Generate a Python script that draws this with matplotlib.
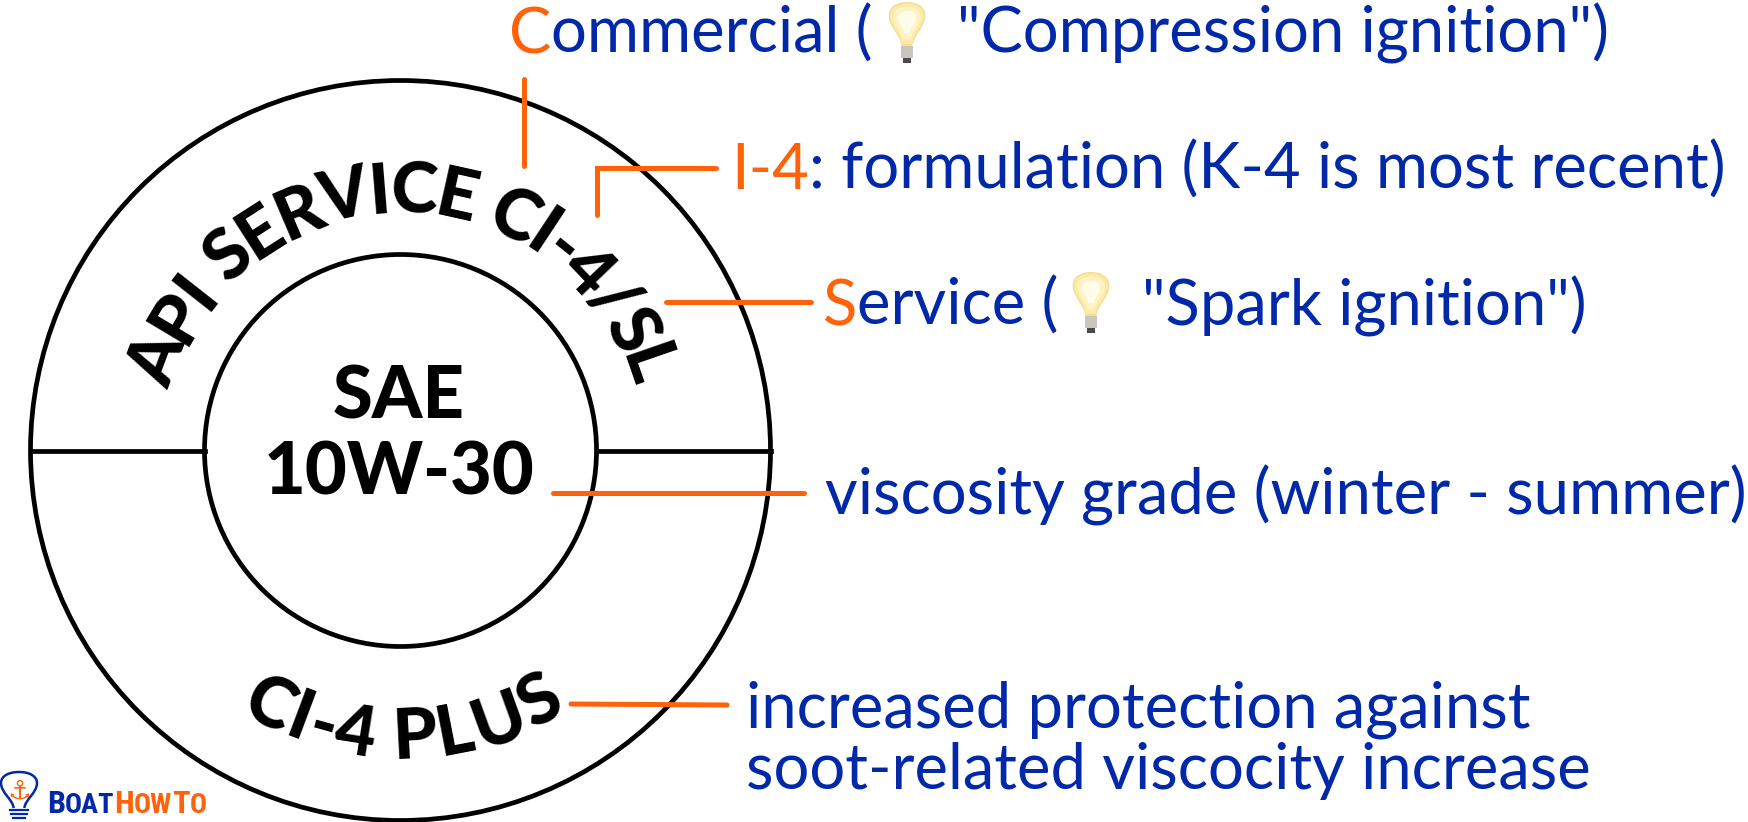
import numpy as np
import matplotlib
matplotlib.use('Agg')
import matplotlib.pyplot as plt
from matplotlib.patches import Circle, PathPatch
from matplotlib.path import Path
from matplotlib import font_manager as fm

BLUE = "#0028a8"
ORANGE = "#ff6208"
FONT = "Lato"

# ring geometry in image pixels
CENTER = (400.5, 450.5)
OUTER_R = 370
INNER_R = 196

top_arc_text = "API SERVICE CI-4/SL"
top_arc_span = (-75, 75)
top_arc_radius = 238
bottom_arc_text = "CI-4 PLUS"
bottom_arc_span = (-32, 33)
bottom_arc_radius = 308

# each label: list of (text, colour) pieces, x, baseline y
labels = [
    ([("C", ORANGE), ("ommercial (", BLUE)], 509, 53),
    ([('"Compression ignition")', BLUE)], 957, 53),
    ([("I-4", ORANGE), (": formulation (K-4 is most recent)", BLUE)], 731, 189),
    ([("S", ORANGE), ("ervice (", BLUE)], 823, 325),
    ([('"Spark ignition")', BLUE)], 1142, 325),
    ([("viscosity grade (winter - summer)", BLUE)], 825, 514),
    ([("increased protection against", BLUE)], 746, 727),
    ([("soot-related viscocity increase", BLUE)], 746, 789),
]

leaders = [
    ([524, 524], [79, 166]),
    ([596.5, 596.5, 716], [215, 168, 168]),
    ([666, 811], [302, 302]),
    ([553, 804], [493, 493]),
    ([571, 727], [704, 705]),
]

bulb_positions = [(907, 2), (1091, 272)]
bulb_height = 61

logo_pieces = [("B", BLUE, 34), ("OAT", BLUE, 30), ("H", ORANGE, 34), ("OW", ORANGE, 30), ("T", ORANGE, 34), ("O", ORANGE, 30)]
logo_span = (47, 207)
logo_fonts = ["Liberation Sans Narrow", "Roboto Condensed", "Open Sans Condensed", "Noto Sans Condensed", "Liberation Sans"]

BULB_VERTS = [(-0.09, 0.72), (-0.10, 0.55), (-0.30, 0.42), (-0.30, 0.22), (-0.30, 0.08), (-0.17, 0), (0, 0),
              (0.17, 0), (0.30, 0.08), (0.30, 0.22), (0.30, 0.42), (0.10, 0.55), (0.09, 0.72)]
BULB_CODES = [Path.MOVETO] + [Path.CURVE4] * 12


def bulb_path(x, y, h, sx=1.0, shrink=1.0):
    # shrink pulls the outline towards the glass centre, for the glow layers
    v = np.array(BULB_VERTS)
    v = (v - [0, 0.3]) * shrink + [0, 0.3]
    return Path(v * [sx, 1] * h + [x, y], BULB_CODES)


def text_width(ax, s, **kw):
    # advance width, measured against a bar so trailing spaces count
    r = ax.figure.canvas.get_renderer()
    a = ax.text(0, 0, s + "|", **kw)
    b = ax.text(0, 0, "|", **kw)
    w = a.get_window_extent(r).width - b.get_window_extent(r).width
    a.remove()
    b.remove()
    return w


def pick_font(names):
    for name in names:
        try:
            fm.findfont(name, fallback_to_default=False)
            return name
        except ValueError:
            pass
    return "DejaVu Sans"


def draw_label(ax, pieces, x, y):
    kw = dict(fontfamily=FONT, fontsize=45.6)
    full = ""
    for s, c in pieces:
        ax.text(x + text_width(ax, full, **kw) if full else x, y, s, color=c, va="baseline", ha="left", **kw)
        full += s


def draw_arc_text(ax, s, span, r, top=True):
    kw = dict(fontfamily=FONT, fontsize=51, fontweight="black")
    total = text_width(ax, s, **kw)
    lo, hi = span
    for i, ch in enumerate(s):
        if ch == " ":
            continue
        w = text_width(ax, ch, **kw)
        mid = text_width(ax, s[:i], **kw) + w / 2 if i else w / 2
        th = np.radians(lo + (hi - lo) * mid / total)
        if top:
            px, py, rot = CENTER[0] + r * np.sin(th), CENTER[1] - r * np.cos(th), -np.degrees(th)
        else:
            px, py, rot = CENTER[0] + r * np.sin(th), CENTER[1] + r * np.cos(th), np.degrees(th)
        ax.text(px, py, ch, rotation=rot, rotation_mode="anchor", ha="center", va="baseline", color="black", **kw)


def draw_bulb(ax, x, y, h):
    for shrink, c in [(1.0, "#f5dc90"), (0.92, "#fbeaa8"), (0.75, "#fff3c4"), (0.5, "#fffcea")]:
        ax.add_patch(PathPatch(bulb_path(x, y, h, 1.0, shrink), fc=c, ec="none", zorder=3))
    ax.add_patch(plt.Rectangle((x - 0.1 * h, y + 0.72 * h), 0.2 * h, 0.19 * h, fc="#c9c6bd", ec="none", zorder=3))
    ax.add_patch(plt.Rectangle((x - 0.06 * h, y + 0.91 * h), 0.12 * h, 0.09 * h, fc="#4a4a4a", ec="none", zorder=3))


def draw_logo(ax):
    ax.add_patch(PathPatch(bulb_path(19, 772, 50, 1.2), fc="white", ec=BLUE, lw=1.8, zorder=3))
    for yy, hw in [(810, 9), (814, 8), (818, 6)]:
        ax.plot([19 - hw, 19 + hw], [yy, yy], color=BLUE, lw=1.6, zorder=4)
    ax.text(19, 792, "\u2693", color=ORANGE, fontsize=19, ha="center", va="center", fontfamily="DejaVu Sans", zorder=5)

    # no tall narrow face here, so scale the wordmark to fit its width
    family = pick_font(logo_fonts)
    widths = [text_width(ax, s, fontfamily=family, fontweight="bold", fontsize=fs) for s, c, fs in logo_pieces]
    scale = (logo_span[1] - logo_span[0]) / sum(widths)
    x = logo_span[0]
    for (s, c, fs), w in zip(logo_pieces, widths):
        ax.text(x, 813, s, color=c, va="baseline", ha="left", fontfamily=family, fontweight="bold", fontsize=fs * scale)
        x += w * scale


fig = plt.figure(figsize=(17.48, 8.22), dpi=100)
ax = fig.add_axes([0, 0, 1, 1])
ax.set_xlim(0, 1748)
ax.set_ylim(822, 0)
ax.axis("off")

ax.add_patch(Circle(CENTER, OUTER_R, fc="white", ec="black", lw=3.4))
ax.plot([CENTER[0] - OUTER_R, CENTER[0] - INNER_R], [CENTER[1]] * 2, color="black", lw=3.4)
ax.plot([CENTER[0] + INNER_R, CENTER[0] + OUTER_R], [CENTER[1]] * 2, color="black", lw=3.4)
ax.add_patch(Circle(CENTER, INNER_R, fc="white", ec="black", lw=3.4))

draw_arc_text(ax, top_arc_text, top_arc_span, top_arc_radius, top=True)
draw_arc_text(ax, bottom_arc_text, bottom_arc_span, bottom_arc_radius, top=False)

ax.text(399, 418, "SAE", fontfamily=FONT, fontsize=52, fontweight="black", ha="center", va="baseline")
ax.text(399, 494, "10W-30", fontfamily=FONT, fontsize=52, fontweight="black", ha="center", va="baseline")

for xs, ys in leaders:
    ax.plot(xs, ys, color=ORANGE, lw=3.6, solid_capstyle="round", solid_joinstyle="miter", zorder=2.5)

for pieces, x, y in labels:
    draw_label(ax, pieces, x, y)

for x, y in bulb_positions:
    draw_bulb(ax, x, y, bulb_height)

draw_logo(ax)

fig.savefig("out.png", dpi=100, facecolor="white")
